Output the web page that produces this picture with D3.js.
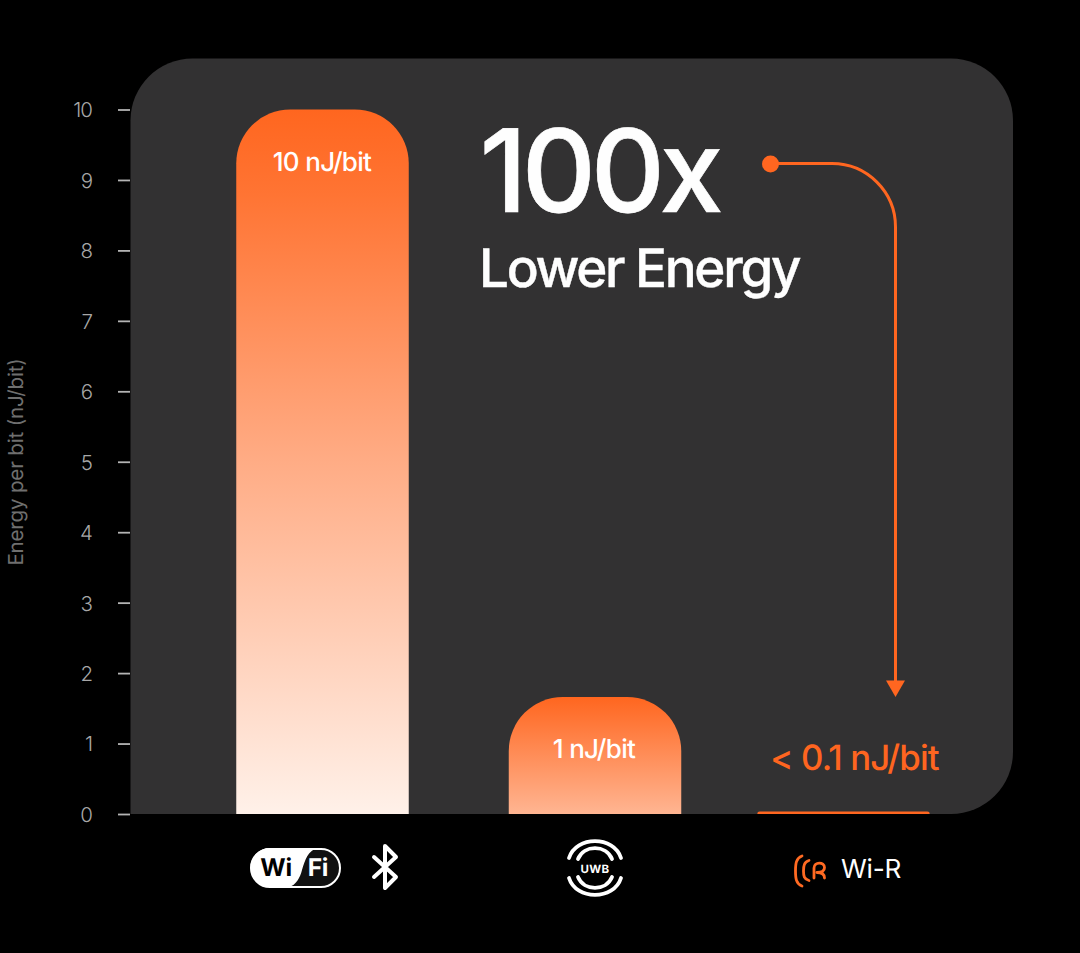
<!DOCTYPE html>
<html><head><meta charset="utf-8">
<script src="https://cdn.jsdelivr.net/npm/d3@7/dist/d3.min.js"></script>
<style>html,body{margin:0;padding:0;background:#000}svg{display:block;font-family:Inter,sans-serif;text-rendering:geometricPrecision}text{opacity:.995}</style>
</head><body><svg id="c" width="1080" height="953"></svg>
<script>
const categories = ["Wi-Fi / Bluetooth", "UWB", "Wi-R"];
const barValues = [10, 1.66, 0.035];
const barLabels = ["10 nJ/bit", "1 nJ/bit", "< 0.1 nJ/bit"];
const yTicks = [0,1,2,3,4,5,6,7,8,9,10];
const axisTitle = "Energy per bit (nJ/bit)";
const headline = "100x";
const subhead = "Lower Energy";

const svg = d3.select("#c");
const y = d3.scaleLinear().domain([0,10]).range([814,109.5]);
const x = d3.scaleOrdinal().domain(categories).range([236.25,508.75,757.25]);
const bw = 172.5;

const orange = "#ff6620";
const defs = svg.append("defs");
function grad(id, stops){
  const g = defs.append("linearGradient").attr("id",id).attr("x1",0).attr("y1",0).attr("x2",0).attr("y2",1);
  stops.forEach(([o,c])=>g.append("stop").attr("offset",o).attr("stop-color",c));
}
grad("g0",[[0,"#ff661f"],[0.12,"#ff7433"],[0.5,"#ffac85"],[1,"#fff1e9"]]);
grad("g1",[[0,"#ff661f"],[1,"#ffb592"]]);

// panel: square bottom-left corner, rounded otherwise
const L=130.5,R=1013,T=58.5,B=814,r=62;
svg.append("path").attr("fill","#323132")
  .attr("d",`M${L},${B}V${T+r}A${r},${r} 0 0 1 ${L+r},${T}H${R-r}A${r},${r} 0 0 1 ${R},${T+r}V${B-r}A${r},${r} 0 0 1 ${R-r},${B}Z`);

// axis
const ag = svg.append("g").attr("transform","translate(130,0)")
  .call(d3.axisLeft(y).tickValues(yTicks).tickSize(12).tickFormat(d3.format("d")));
ag.select(".domain").remove();
ag.selectAll("line").attr("stroke","#b4b4b4").attr("stroke-width",1.8);
ag.selectAll("text").attr("fill","#a8a8a8").attr("font-family","Inter,sans-serif").attr("font-size",20.5).attr("font-weight",300).attr("text-anchor","end").attr("x",-38).attr("dy","0.36em").attr("letter-spacing",-1);

svg.append("text").attr("transform","translate(23,462) rotate(-90)").attr("text-anchor","middle")
  .attr("fill","#707070").attr("font-size",20.6).attr("font-weight",400).attr("letter-spacing",-0.2).text(axisTitle);

// bars
svg.selectAll("path.bar").data(categories).join("path").attr("class","bar")
  .attr("d",(c,i)=>{
    const x0=x(c),x1=x0+bw,y0=y(barValues[i]),yb=y(0),rr=Math.min(i==2?3:54,yb-y0);
    return `M${x0},${yb}V${y0+rr}A${rr},${rr} 0 0 1 ${x0+rr},${y0}H${x1-rr}A${rr},${rr} 0 0 1 ${x1},${y0+rr}V${yb}Z`;
  })
  .attr("fill",(c,i)=>i==2?orange:`url(#g${i})`);

// bar labels
const ly=[170.5,758,770], ls=[26,26,34.8], lc=["#fff","#fff",orange], lsp=[-0.7,-0.7,-0.9];
svg.selectAll("text.bl").data(barLabels).join("text").attr("class","bl")
  .attr("x",(d,i)=>[322,594,854.5][i]).attr("y",(d,i)=>ly[i]).attr("text-anchor","middle")
  .attr("font-size",(d,i)=>ls[i]).attr("font-weight",500).attr("fill",(d,i)=>lc[i]).attr("letter-spacing",(d,i)=>lsp[i])
  .text(d=>d);

// headline
svg.append("text").attr("x",479.5).attr("y",212).attr("fill","#fff").attr("font-size",115).attr("font-weight",500).attr("letter-spacing",-5.4).attr("stroke","#fff").attr("stroke-width",0.6).text(headline);
svg.append("text").attr("x",479).attr("y",287).attr("fill","#fff").attr("font-size",53).attr("font-weight",500).attr("letter-spacing",-2.3).attr("stroke","#fff").attr("stroke-width",0.4).text(subhead);

// arrow
svg.append("path").attr("fill","none").attr("stroke",orange).attr("stroke-width",3)
  .attr("d","M771,163.5H832A63.5,63.5 0 0 1 895.5,227V684");
svg.append("circle").attr("cx",770.5).attr("cy",164).attr("r",8.5).attr("fill",orange);
svg.append("path").attr("fill",orange).attr("d","M886,680.5H905L895.5,697Z");

// category icons
const ig = svg.append("g");
// WiFi logo
ig.append("rect").attr("x",251).attr("y",849).attr("width",89).attr("height",38).attr("rx",19).attr("fill","#111").attr("stroke","#fff").attr("stroke-width",2);
ig.append("path").attr("fill","#fff").attr("d","M270,848H318C308,850 305,860 302,870C300,878 296,885 289,887H270A19.5,19.5 0 0 1 270,848Z");
ig.append("text").attr("x",276).attr("y",876).attr("text-anchor","middle").attr("font-size",24.5).attr("font-weight",700).attr("fill","#000").attr("letter-spacing",-0.3).text("Wi");
ig.append("text").attr("x",318).attr("y",876).attr("text-anchor","middle").attr("font-size",24.5).attr("font-weight",700).attr("fill","#fff").attr("letter-spacing",-0.3).text("Fi");
// Bluetooth
ig.append("path").attr("fill","none").attr("stroke","#fff").attr("stroke-width",4).attr("stroke-linejoin","round").attr("stroke-linecap","round")
  .attr("d","M374,857L396,877L385,888V846L396,857L374,877");
// UWB
const uwb = ig.append("g").attr("fill","none").attr("stroke","#fff").attr("stroke-linecap","round").attr("stroke-width",3.8);
uwb.append("path").attr("d","M569,858C576,835.5 614,835.5 621,858");
uwb.append("path").attr("d","M569,878C576,900.5 614,900.5 621,878");
uwb.append("path").attr("d","M578,859C584,844.5 606,844.5 612,859");
uwb.append("path").attr("d","M578,877C584,891.5 606,891.5 612,877");
ig.append("text").attr("x",595).attr("y",873).attr("text-anchor","middle").attr("font-size",11.5).attr("font-weight",700).attr("letter-spacing",0.4).attr("fill","#fff").text("UWB");
// Wi-R mark
const wr = ig.append("g").attr("fill","none").attr("stroke","#ff6a22").attr("stroke-width",2.8).attr("stroke-linecap","round").attr("stroke-linejoin","round");
wr.append("path").attr("d","M802,856C796,858 795.5,864 795.5,871C795.5,878 796,884 802,886");
wr.append("path").attr("d","M809,860.5C804,862 803.5,866 803.5,871C803.5,876 804,879 809,880.5");
wr.append("path").attr("d","M814,878V868C814,861.5 824.5,861.5 824.5,867.5C824.5,871 821,872.5 817,872.5C821,872.5 824.5,874 824.5,878");
ig.append("text").attr("x",841).attr("y",878).attr("font-size",26.2).attr("font-weight",400).attr("fill","#fff").attr("letter-spacing",-0.2).text("Wi-R");
</script></body></html>
